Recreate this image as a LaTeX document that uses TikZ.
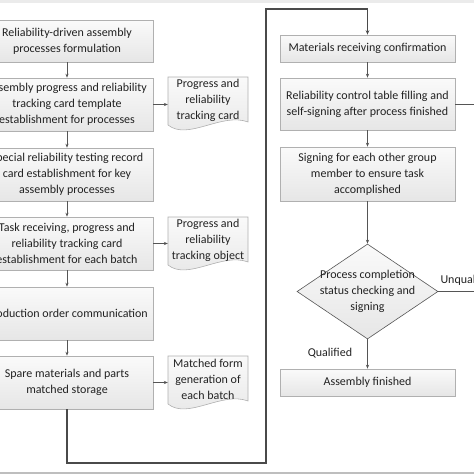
\documentclass[tikz,border=0pt]{standalone}
\usepackage{fontspec}
\setmainfont{Carlito}
\usetikzlibrary{arrows.meta,shapes.geometric}
\definecolor{boxline}{HTML}{B0B0B0}
\definecolor{boxtop}{HTML}{FAFAFA}
\definecolor{boxbot}{HTML}{E6E6E6}
\definecolor{txt}{HTML}{222222}
\definecolor{arrc}{HTML}{555555}
\definecolor{mainc}{HTML}{4A4A4A}
\definecolor{topband}{HTML}{EBEBEB}
\definecolor{botband}{HTML}{BEBEBE}
\newcommand\docat[3]{%
  \path[docshape] (168,-#2) -- (248,-#2) -- (248,{-#2-45}) .. controls +(-26,10) and +(20,-16) .. (168,{-#2-48}) -- cycle;
  \node[doctext] (#1) at (208,{-#2-23}) {#3};
}
\begin{document}
\begin{tikzpicture}[x=1pt,y=1pt,
  txtfont/.style={font=\fontsize{12}{16}\selectfont, text=txt, align=center},
  lbox/.style={txtfont, draw=boxline, line width=0.6pt, top color=boxtop, bottom color=boxbot, minimum width=172pt, inner sep=0pt},
  rbox/.style={txtfont, draw=boxline, line width=0.6pt, top color=boxtop, bottom color=boxbot, minimum width=175pt, inner sep=0pt},
  docshape/.style={draw=boxline, line width=0.6pt, top color=boxtop, bottom color=boxbot},
  doctext/.style={txtfont, minimum width=80pt, minimum height=46pt, inner sep=0pt},
  diashape/.style={diamond, draw=arrc, line width=0.6pt, top color=boxtop, bottom color=boxbot, minimum width=141pt, minimum height=95pt, inner sep=0pt},
  arr/.style={draw=arrc, line width=0.7pt, -{Stealth[length=4pt,width=3.2pt]}},
  plain/.style={draw=arrc, line width=0.7pt},
  mainline/.style={draw=mainc, line width=1.4pt, -{Stealth[length=4.5pt,width=3.6pt]}},
  lbl/.style={txtfont}
]
\useasboundingbox (0,0) rectangle (474,-474);
\clip (0,0) rectangle (474,-474);
\fill[topband] (0,0) rectangle (474,-2.5);
\fill[botband] (0,-472) rectangle (474,-474);

% left column
\node[lbox, minimum height=42pt] (b1) at (67,-41) {Reliability-driven assembly\\processes formulation};
\node[lbox, minimum height=53pt] (b2) at (67,-104.5) {Assembly progress and reliability\\tracking card template\\establishment for processes};
\node[lbox, minimum height=53pt] (b3) at (67,-174.5) {Special reliability testing record\\card establishment for key\\assembly processes};
\node[lbox, minimum height=53pt] (b4) at (67,-243.5) {Task receiving, progress and\\reliability tracking card\\establishment for each batch};
\node[lbox, minimum height=53pt] (b5) at (67,-313.5) {Production order communication};
\node[lbox, minimum height=53pt] (b6) at (67,-382.5) {Spare materials and parts\\matched storage};

% documents
\docat{d1}{77}{Progress and\\reliability\\tracking card}
\docat{d2}{217}{Progress and\\reliability\\tracking object}
\docat{d3}{356}{Matched form\\generation of\\each batch}

% right column
\node[rbox, minimum height=27pt] (r1) at (367.5,-48.5) {Materials receiving confirmation};
\node[rbox, minimum height=52pt] (r2) at (367.5,-104) {Reliability control table filling and\\self-signing after process finished};
\node[rbox, minimum height=54pt] (r3) at (367.5,-174) {Signing for each other group\\member to ensure task\\accomplished};
\node[diashape] (dia) at (367.5,-291.5) {};
\node[txtfont, inner sep=0pt] (diat) at (dia.center) {Process completion\\status checking and\\signing};
\node[rbox, minimum height=27pt] (r4) at (367.5,-382.5) {Assembly finished};

% connectors left
\draw[arr] (b1.south) -- (b2.north);
\draw[arr] (b2.south) -- (b3.north);
\draw[arr] (b3.south) -- (b4.north);
\draw[arr] (b4.south) -- (b5.north);
\draw[arr] (b5.south) -- (b6.north);
\draw[arr] (b2.east) -- (b2.east -| d1.west);
\draw[arr] (b4.east) -- (b4.east -| d2.west);
\draw[arr] (b6.east) -- (b6.east -| d3.west);

% main loop
\coordinate (ca) at (266,-463);
\coordinate (cb) at (367.5,-9);
\draw[mainline] (b6.south) |- (ca) |- (cb) -- (r1.north);

% connectors right
\draw[arr] (r1.south) -- (r2.north);
\draw[arr] (r2.south) -- (r3.north);
\draw[arr] (r3.south) -- (dia.north);
\draw[arr] (dia.south) -- (r4.north);
\coordinate (rr) at (492,-200);
\draw[plain] (dia.east) -- (dia.east -| rr) -- (r2.east -| rr) -- (r2.east);
\node[lbl, anchor=south west] (unq) at (437,-289) {Unqualified};
\node[lbl] (qual) at (330,-353) {Qualified};
\end{tikzpicture}
\end{document}
